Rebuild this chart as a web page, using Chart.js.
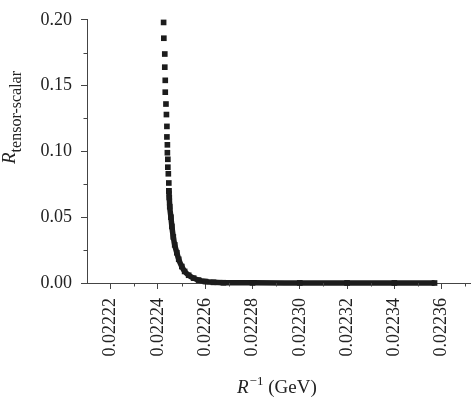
<!DOCTYPE html>
<html>
<head>
<meta charset="UTF-8">
<title>R tensor-scalar</title>
<script src="https://cdn.jsdelivr.net/npm/chart.js"></script>
<style>
  body { margin: 0; background: #fff; }
  canvas { display: block; }
</style>
</head>
<body>
<canvas id="chart" width="474" height="399"></canvas>
<script>
/*** DATA ***/
// separate squares at the top of the curve
const sparseX = [0.0222424, 0.0222425, 0.0222429, 0.0222429, 0.0222431, 0.0222431, 0.0222434, 0.0222436, 0.0222438,
                 0.0222438, 0.0222440, 0.0222440, 0.0222442, 0.0222442, 0.0222444, 0.0222446, 0.0222446];
const sparseR = [0.198, 0.186, 0.174, 0.164, 0.154, 0.145, 0.136, 0.128, 0.119,
                 0.111, 0.105, 0.099, 0.094, 0.088, 0.083, 0.076, 0.070];
// dense part, squares overlap into a thick line
const curveX = [0.0222446, 0.0222448, 0.0222450, 0.0222455, 0.0222459, 0.0222465, 0.0222471, 0.0222480, 0.0222488,
                0.0222501, 0.0222513, 0.0222530, 0.0222551, 0.0222572, 0.0222601, 0.0222635, 0.0222677,
                0.0222800, 0.0223000, 0.0223200, 0.0223400, 0.0223570];
const curveR = [0.070, 0.065, 0.058, 0.050, 0.043, 0.035, 0.029, 0.023, 0.018,
                0.0125, 0.0088, 0.0059, 0.0037, 0.0022, 0.0011, 0.0005, 0.0002,
                0.0001, 0.00005, 0.00002, 0.00001, 0];

const xTicks = [0.02222, 0.02224, 0.02226, 0.02228, 0.02230, 0.02232, 0.02234, 0.02236];
const xMinor = [0.02223, 0.02225, 0.02227, 0.02229, 0.02231, 0.02233, 0.02235, 0.02237];
const yTicks = [0, 0.05, 0.10, 0.15, 0.20];
const yMinor = [0.025, 0.075, 0.125, 0.175];

const INK = '#1c1c1c';
const AXIS = '#444';
const FONT = '"Liberation Serif", "DejaVu Serif", serif';

const toPts = (xs, ys) => xs.map((x, i) => ({ x: x, y: ys[i] }));

/*** minor ticks + axis titles ***/
const extras = {
  id: 'extras',
  afterDraw(chart) {
    const c = chart.ctx;
    const xs = chart.scales.x, ys = chart.scales.y;
    c.save();
    c.strokeStyle = AXIS;
    c.lineWidth = 1;
    c.beginPath();
    xMinor.forEach(v => {
      const px = Math.round(xs.getPixelForValue(v)) + 0.5;
      c.moveTo(px, xs.top); c.lineTo(px, xs.top + 3.5);
    });
    yMinor.forEach(v => {
      const py = Math.round(ys.getPixelForValue(v)) + 0.5;
      c.moveTo(ys.right, py); c.lineTo(ys.right - 3.5, py);
    });
    c.stroke();

    c.fillStyle = '#222';
    c.textBaseline = 'alphabetic';
    c.textAlign = 'left';

    // x title: R^-1 (GeV)
    let x = 237, base = 393;
    c.font = 'italic 19px ' + FONT;
    c.fillText('R', x, base);
    x += c.measureText('R').width + 1;
    c.font = '13px ' + FONT;
    c.fillText('\u22121', x, base - 8);
    x += c.measureText('\u22121').width;
    c.font = '19px ' + FONT;
    c.fillText(' (GeV)', x, base);

    // y title: R_tensor-scalar, rotated
    c.translate(15, 164);
    c.rotate(-Math.PI / 2);
    c.font = 'italic 19px ' + FONT;
    c.fillText('R', 0, 0);
    const w = c.measureText('R').width;
    c.font = '16px ' + FONT;
    c.fillText('tensor-scalar', w, 6);
    c.restore();
  }
};

new Chart(document.getElementById('chart'), {
  type: 'scatter',
  data: {
    datasets: [
      {
        data: toPts(sparseX, sparseR),
        pointStyle: 'rect',
        pointRadius: 4,
        backgroundColor: INK,
        borderWidth: 0,
        showLine: false,
        clip: false
      },
      {
        data: toPts(curveX, curveR),
        showLine: true,
        borderColor: INK,
        borderWidth: 5.5,
        backgroundColor: INK,
        pointStyle: 'rect',
        pointRadius: 4,
        pointBorderWidth: 0,
        cubicInterpolationMode: 'monotone',
        clip: false
      }
    ]
  },
  options: {
    responsive: false,
    animation: false,
    layout: { padding: { top: 12, right: 0, left: 0, bottom: 0 } },
    plugins: { legend: { display: false }, tooltip: { enabled: false } },
    scales: {
      x: {
        type: 'linear',
        min: 0.02221,
        max: 0.022372,
        afterBuildTicks: s => { s.ticks = xTicks.map(v => ({ value: v })); },
        afterFit: s => { s.height = 116; },
        grid: { drawOnChartArea: false, tickLength: 6, color: AXIS },
        border: { color: AXIS, width: 1 },
        ticks: {
          minRotation: 90, maxRotation: 90, padding: 9,
          color: '#222', font: { family: FONT, size: 18 },
          callback: v => v.toFixed(5)
        }
      },
      y: {
        min: 0,
        max: 0.2,
        afterBuildTicks: s => { s.ticks = yTicks.map(v => ({ value: v })); },
        afterFit: s => { s.width = 87; },
        grid: { drawOnChartArea: false, tickLength: 6, color: AXIS },
        border: { color: AXIS, width: 1 },
        ticks: {
          padding: 9,
          color: '#222', font: { family: FONT, size: 18 },
          callback: v => v.toFixed(2)
        }
      }
    }
  },
  plugins: [extras]
});
</script>
</body>
</html>
